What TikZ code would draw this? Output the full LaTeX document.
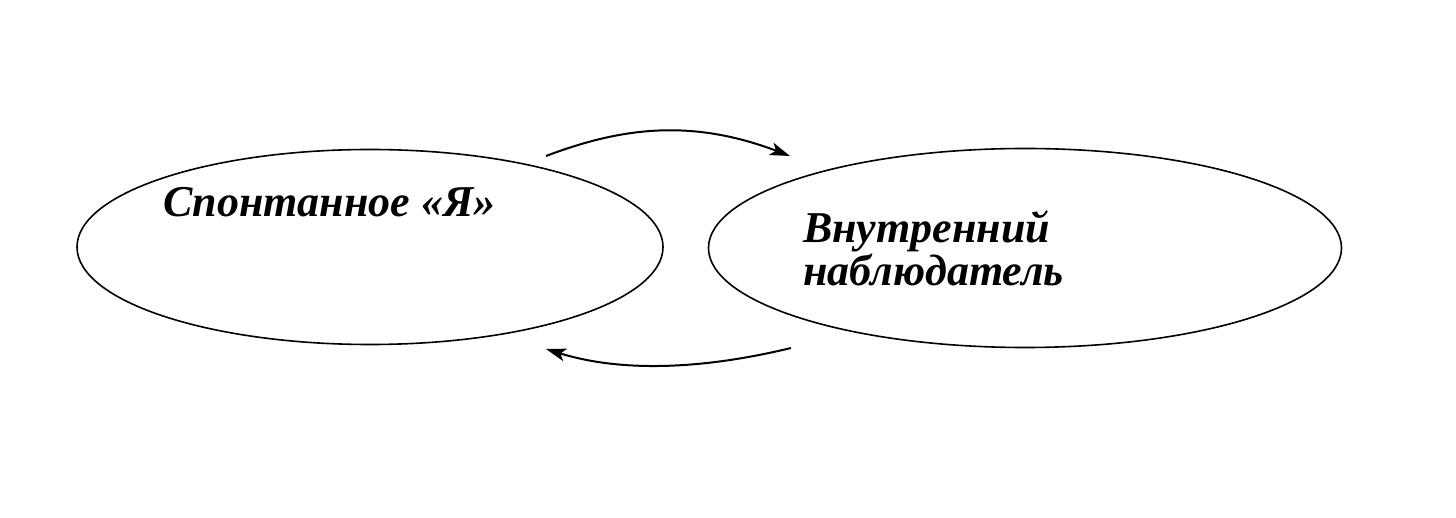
\documentclass[tikz,border=0pt]{standalone}
\usepackage{fontspec}
\setmainfont{Liberation Serif}
\usetikzlibrary{shapes.geometric,arrows.meta}
\begin{document}
\begin{tikzpicture}[x=1pt,y=-1pt,
  oval/.style={draw,ellipse,line width=1.6pt,inner sep=0pt},
  lbl/.style={font=\fontsize{44}{43}\selectfont\bfseries\itshape,inner sep=0pt,anchor=base west,align=left},
  conn/.style={line width=2pt,-{Stealth[length=20pt,width=13pt,inset=5pt]}}]
\useasboundingbox (0,0) rectangle (1456,518);
\node[oval,minimum width=586pt,minimum height=195pt] (left) at (370,247) {};
\node[oval,minimum width=633pt,minimum height=199pt] (right) at (1025,248) {};
\node[lbl] (t1) at (163,217) {Спонтанное «Я»};
\node[lbl] (t2) at (803,286) {Внутренний\\наблюдатель};
\coordinate (a1) at (546,156);
\coordinate (a2) at (790,156);
\coordinate (b1) at (791,348);
\coordinate (b2) at (546,349);
\draw[conn] (a1) .. controls (620,128) and (690,118) .. (a2);
\draw[conn] (b1) .. controls (700,370) and (620,372) .. (b2);
\end{tikzpicture}
\end{document}
